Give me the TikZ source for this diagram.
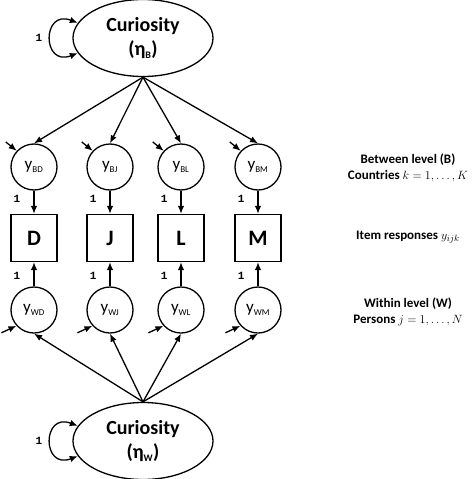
\documentclass[tikz,border=0pt]{standalone}
\usepackage{fontspec}
\setmainfont{Carlito}
\newfontfamily\onefont{Liberation Mono}
\usetikzlibrary{arrows.meta,shapes.geometric,positioning}

\begin{document}
\begin{tikzpicture}[x=1pt,y=-1pt,
  every path/.style={line width=1.3pt},
  latent/.style={ellipse,draw,minimum width=140pt,minimum height=77pt,inner sep=0pt,align=center,font=\bfseries\fontsize{20}{24}\selectfont},
  resid/.style={circle,draw,minimum size=46pt,inner sep=0pt,font=\fontsize{17}{17}\selectfont},
  itembox/.style={rectangle,draw,minimum width=46pt,minimum height=47pt,inner sep=0pt,font=\bfseries\fontsize{22}{22}\selectfont},
  onelab/.style={font=\onefont\bfseries\fontsize{11}{11}\selectfont,inner sep=0pt},
  leveltxt/.style={align=center,font=\bfseries\fontsize{13}{16}\selectfont},
  arr/.style={-{Latex[length=8pt,width=6.5pt]}},
  var/.style={{Latex[length=8pt,width=6.5pt]}-{Latex[length=8pt,width=6.5pt]}}
]
\useasboundingbox (0,0) rectangle (474,479);

%%% LATENT FACTORS %%%
\node[latent] (etaB) at (143,38) {Curiosity\\(η\textsubscript{\fontsize{10}{10}\selectfont B})};
\node[latent] (etaW) at (143,441) {Curiosity\\(η\textsubscript{\fontsize{10}{10}\selectfont W})};

%%% VARIANCES %%%
\draw[var] (etaB.167) .. controls +(-36,-14) and +(-36,14) .. (etaB.193) node[onelab,pos=0.5,left=8pt] (oneB) {1};
\draw[var] (etaW.167) .. controls +(-36,-14) and +(-36,14) .. (etaW.193) node[onelab,pos=0.5,left=8pt] (oneW) {1};

%%% ITEMS %%%
\foreach \n/\x in {D/34,J/110,L/181,M/258}{
\node[resid] (yB\n) at (\x,167) {y\textsubscript{\fontsize{9}{9}\selectfont B\n}};
\node[itembox] (\n) at (\x,238) {\n};
\node[resid] (yW\n) at (\x,310) {y\textsubscript{\fontsize{9}{9}\selectfont W\n}};
% residual arrows
\coordinate[above left=9pt and 11pt of yB\n.137] (eB\n);
\coordinate[below left=7pt and 15pt of yW\n.222] (eW\n);
\draw[arr] (eB\n) -- (yB\n.137);
\draw[arr] (eW\n) -- (yW\n.222);
% loadings
\draw[arr] (etaB.south) -- (yB\n.north);
\draw[arr] (etaW.north) -- (yW\n.south);
\draw[arr] (yB\n.south) -- (\n.north) node[onelab,pos=0.35,left=13pt] {1};
\draw[arr] (yW\n.north) -- (\n.south) node[onelab,pos=0.45,left=13pt] {1};
}

%%% LEVEL TEXT %%%
\node[leveltxt] (between) at (408,168) {Between level (B)\\Countries \mdseries$k=1,\dots,K$};
\node[leveltxt] (items) at (408,237) {Item responses \mdseries$y_{ijk}$};
\node[leveltxt] (within) at (408,312) {Within level (W)\\Persons \mdseries$j=1,\dots,N$};

\end{tikzpicture}
\end{document}
